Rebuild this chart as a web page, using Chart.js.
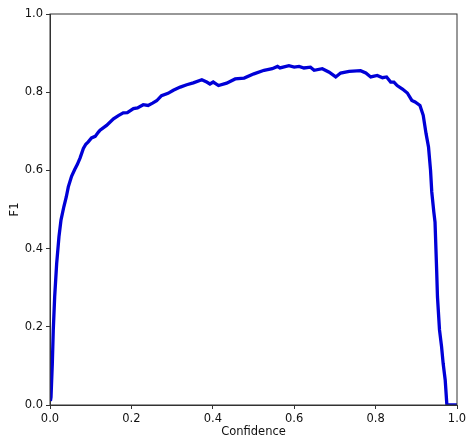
<!DOCTYPE html>
<html>
<head>
<meta charset="utf-8">
<script src="https://cdn.jsdelivr.net/npm/chart.js@4"></script>
<style>
  html, body { margin: 0; padding: 0; background: #fff; }
  #wrap { width: 474px; height: 440px; }
</style>
</head>
<body>
<div id="wrap"><canvas id="f1Chart"></canvas></div>
<script>
// F1 vs confidence
const confidence = [
  0.001, 0.0025, 0.0057, 0.008, 0.0115, 0.0164, 0.022, 0.027, 0.034, 0.040,
  0.045, 0.053, 0.061, 0.067, 0.074, 0.082, 0.088, 0.094, 0.102, 0.111,
  0.119, 0.123, 0.139, 0.156, 0.168, 0.180, 0.190, 0.205, 0.215, 0.229,
  0.241, 0.252, 0.262, 0.274, 0.290, 0.303, 0.320, 0.336, 0.352, 0.373,
  0.385, 0.393, 0.401, 0.414, 0.434, 0.455, 0.477, 0.501, 0.526, 0.546,
  0.559, 0.565, 0.587, 0.600, 0.612, 0.624, 0.640, 0.649, 0.669, 0.686,
  0.702, 0.714, 0.735, 0.763, 0.776, 0.788, 0.804, 0.817, 0.827, 0.837,
  0.845, 0.853, 0.866, 0.878, 0.889, 0.897, 0.909, 0.917, 0.924, 0.930,
  0.935, 0.938, 0.943, 0.946, 0.950, 0.952, 0.957, 0.962, 0.966, 0.971,
  0.975, 0.976, 1.0
];
const f1 = [
  0.01, 0.02, 0.106, 0.19, 0.277, 0.362, 0.43, 0.473, 0.507, 0.532,
  0.558, 0.585, 0.603, 0.615, 0.632, 0.656, 0.667, 0.673, 0.683, 0.687,
  0.698, 0.703, 0.715, 0.732, 0.740, 0.747, 0.748, 0.758, 0.760, 0.768,
  0.766, 0.772, 0.778, 0.791, 0.797, 0.805, 0.813, 0.819, 0.824, 0.832,
  0.826, 0.821, 0.826, 0.817, 0.823, 0.834, 0.836, 0.847, 0.856, 0.860,
  0.866, 0.862, 0.868, 0.864, 0.866, 0.862, 0.864, 0.856, 0.860, 0.851,
  0.839, 0.849, 0.853, 0.855, 0.849, 0.839, 0.843, 0.837, 0.839, 0.826,
  0.826, 0.817, 0.808, 0.798, 0.779, 0.775, 0.766, 0.741, 0.694, 0.660,
  0.600, 0.545, 0.494, 0.468, 0.345, 0.277, 0.192, 0.150, 0.106, 0.064,
  0.002, 0, 0
];
const axisTicks = [0, 0.2, 0.4, 0.6, 0.8, 1.0];

const tickFont = { family: 'DejaVu Sans', size: 11.5 };

// matplotlib style frame round the plot area
const framePlugin = {
  id: 'frame',
  afterDraw(chart) {
    const a = chart.chartArea;
    const ctx = chart.ctx;
    ctx.save();
    ctx.strokeStyle = '#333';
    ctx.lineWidth = 1;
    ctx.strokeRect(a.left, a.top, a.right - a.left, a.bottom - a.top);
    ctx.restore();
  }
};

const ctx = document.getElementById('f1Chart').getContext('2d');
const f1Chart = new Chart(ctx, {
  type: 'line',
  data: {
    datasets: [{
      label: 'F1',
      data: confidence.map((c, i) => ({ x: c, y: f1[i] })),
      borderColor: 'rgb(0, 0, 215)',
      borderWidth: 3.3,
      pointRadius: 0,
      tension: 0,
      fill: false,
      clip: 0
    }]
  },
  options: {
    responsive: true,
    maintainAspectRatio: false,
    animation: false,
    layout: { padding: { left: 0, right: 17, top: 14, bottom: 0 } },
    plugins: {
      legend: { display: false },
      tooltip: { enabled: false }
    },
    scales: {
      x: {
        type: 'linear',
        min: 0,
        max: 1,
        afterBuildTicks: s => { s.ticks = axisTicks.map(v => ({ value: v })); },
        afterFit: s => { s.height = 35; },
        ticks: {
          font: tickFont,
          color: '#111',
          padding: 3,
          maxRotation: 0,
          callback: v => v.toFixed(1)
        },
        grid: { drawOnChartArea: false, drawTicks: true, tickLength: 4, color: '#333' },
        border: { display: true, color: '#333' },
        title: {
          display: true,
          text: 'Confidence',
          font: { family: 'DejaVu Sans', size: 11.5 },
          color: '#111',
          padding: { top: 0, bottom: 1 }
        }
      },
      y: {
        type: 'linear',
        min: 0,
        max: 1,
        afterBuildTicks: s => { s.ticks = axisTicks.map(v => ({ value: v })); },
        afterFit: s => { s.width = 50; },
        ticks: {
          font: tickFont,
          color: '#111',
          padding: 3,
          callback: v => v.toFixed(1)
        },
        grid: { drawOnChartArea: false, drawTicks: true, tickLength: 4, color: '#333' },
        border: { display: true, color: '#333' },
        title: {
          display: true,
          text: 'F1',
          font: { family: 'DejaVu Sans', size: 11.5 },
          color: '#111',
          padding: { top: 8, bottom: 0 }
        }
      }
    }
  },
  plugins: [framePlugin]
});
</script>
</body>
</html>
